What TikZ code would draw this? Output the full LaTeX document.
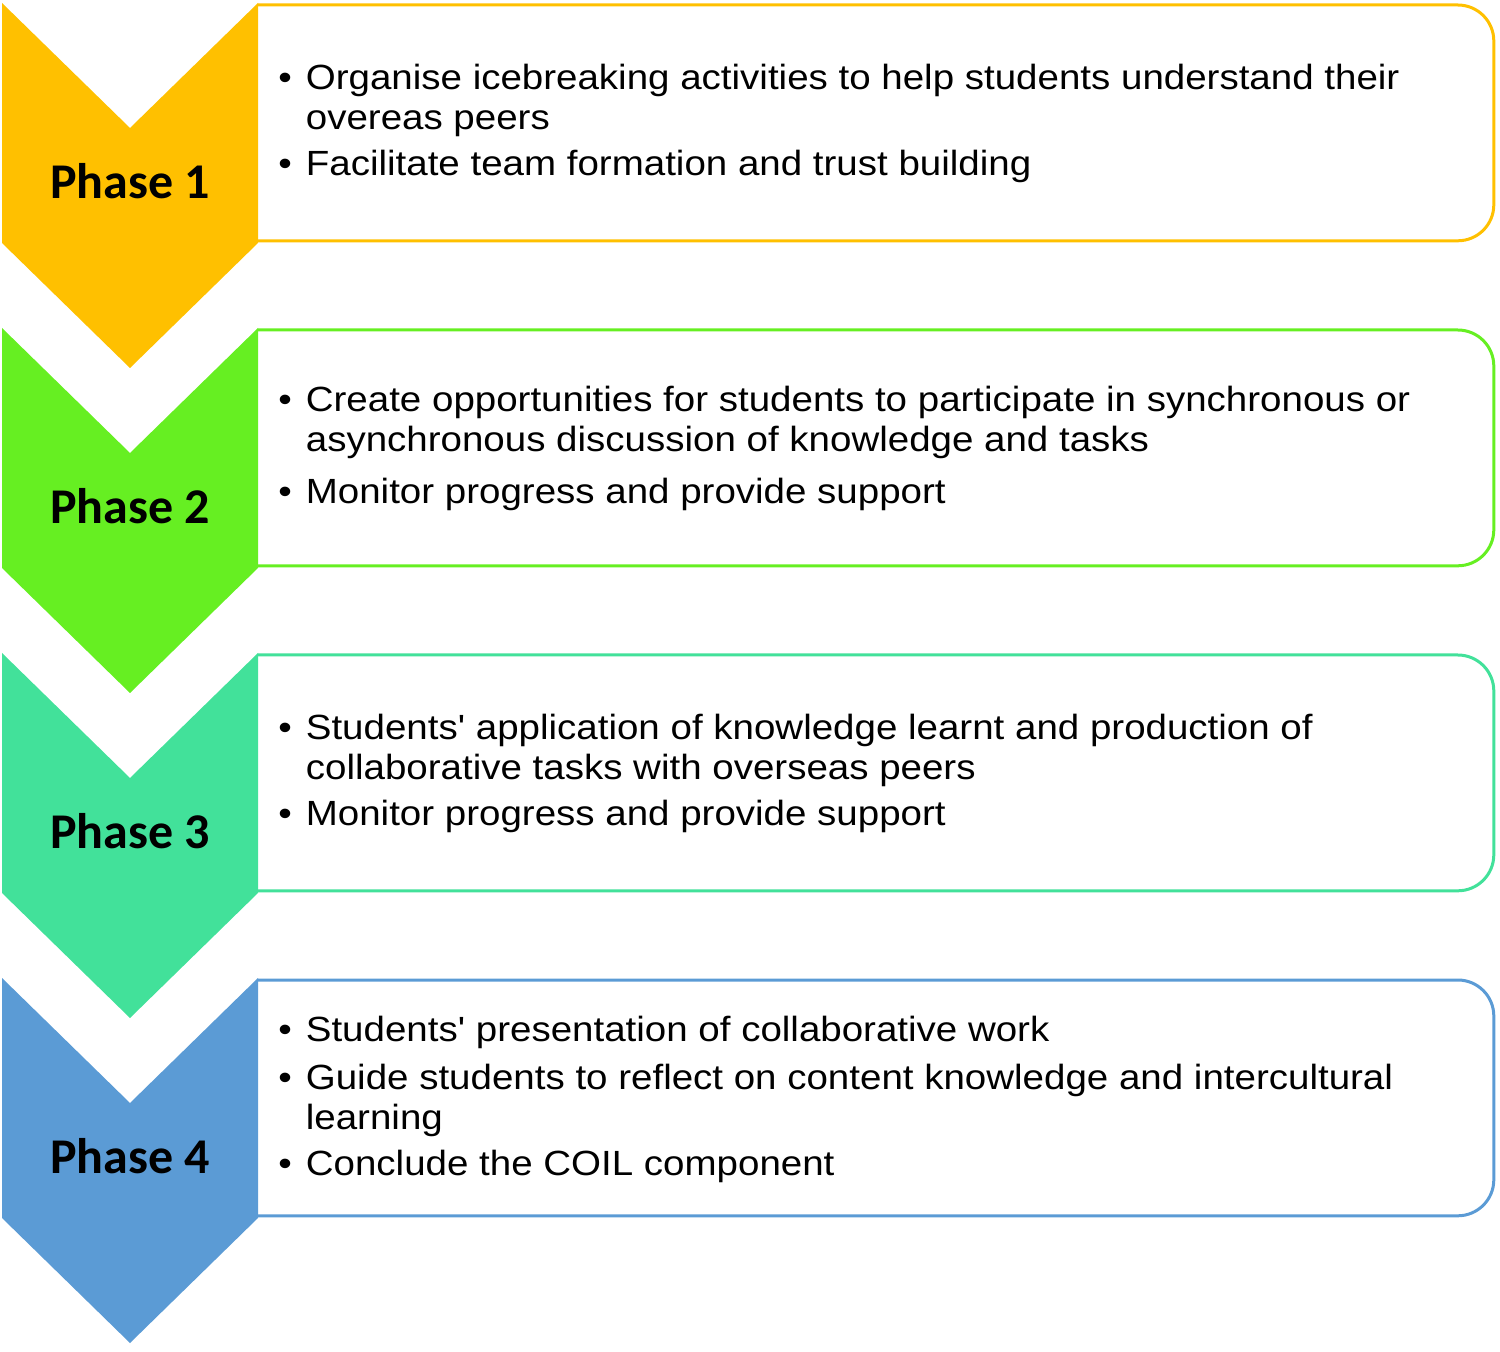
\documentclass[tikz,border=0pt]{standalone}
\usepackage{fontspec}
\setmainfont{Liberation Sans}
\newfontfamily\taskfont[FakeStretch=1.1]{Liberation Sans}
\newfontfamily\phasefont{Carlito}
\usepackage{xcolor}
\definecolor{phaseone}{HTML}{FFC000}
\definecolor{phasetwo}{HTML}{66EF22}
\definecolor{phasethree}{HTML}{42E19A}
\definecolor{phasefour}{HTML}{5B9BD5}
\newcommand{\bul}{\textbullet}

\begin{document}
\begin{tikzpicture}[x=0.5pt,y=-0.5pt,
  phase/.style={font=\phasefont\bfseries\fontsize{25}{30}\selectfont},
  tasks/.style={anchor=west,inner sep=0pt,font=\taskfont\fontsize{17.5}{20}\selectfont},
  frame/.style={line width=1.5pt,rounded corners=18pt}]
  \useasboundingbox (0,0) rectangle (1500,1352);
  % phase 1
  \node[inner sep=0pt,minimum width=617.5pt,minimum height=117.5pt,anchor=north west] (b1) at (258,5) {};
  \draw[frame,phaseone] (b1.north west) -- (b1.north east) -- (b1.south east) -- (b1.south west);
  \fill[phaseone] (2,3) -- (130,128) -- (258,3) -- (258,243) -- (130,368) -- (2,243) -- cycle;
  \node[phase] (p1) at (130,181) {Phase 1};
  \node[tasks] (t1) at (278,125) {\begin{tabular}{@{}l@{\hspace{7pt}}l@{}}
    \bul & Organise icebreaking activities to help students understand their\\
         & overeas peers\\[3pt]
    \bul & Facilitate team formation and trust building
  \end{tabular}};
  % phase 2
  \node[inner sep=0pt,minimum width=617.5pt,minimum height=117.5pt,anchor=north west] (b2) at (258,330) {};
  \draw[frame,phasetwo] (b2.north west) -- (b2.north east) -- (b2.south east) -- (b2.south west);
  \fill[phasetwo] (2,328) -- (130,453) -- (258,328) -- (258,568) -- (130,693) -- (2,568) -- cycle;
  \node[phase] (p2) at (130,506) {Phase 2};
  \node[tasks] (t2) at (278,450) {\begin{tabular}{@{}l@{\hspace{7pt}}l@{}}
    \bul & Create opportunities for students to participate in synchronous or\\
         & asynchronous discussion of knowledge and tasks\\[6pt]
    \bul & Monitor progress and provide support
  \end{tabular}};
  % phase 3
  \node[inner sep=0pt,minimum width=617.5pt,minimum height=117.5pt,anchor=north west] (b3) at (258,655) {};
  \draw[frame,phasethree] (b3.north west) -- (b3.north east) -- (b3.south east) -- (b3.south west);
  \fill[phasethree] (2,653) -- (130,778) -- (258,653) -- (258,893) -- (130,1018) -- (2,893) -- cycle;
  \node[phase] (p3) at (130,831) {Phase 3};
  \node[tasks] (t3) at (278,775) {\begin{tabular}{@{}l@{\hspace{7pt}}l@{}}
    \bul & Students' application of knowledge learnt and production of\\
         & collaborative tasks with overseas peers\\[3pt]
    \bul & Monitor progress and provide support
  \end{tabular}};
  % phase 4
  \node[inner sep=0pt,minimum width=617.5pt,minimum height=117.5pt,anchor=north west] (b4) at (258,980) {};
  \draw[frame,phasefour] (b4.north west) -- (b4.north east) -- (b4.south east) -- (b4.south west);
  \fill[phasefour] (2,978) -- (130,1103) -- (258,978) -- (258,1218) -- (130,1343) -- (2,1218) -- cycle;
  \node[phase] (p4) at (130,1156) {Phase 4};
  \node[tasks] (t4) at (278,1100.5) {\begin{tabular}{@{}l@{\hspace{7pt}}l@{}}
    \bul & Students' presentation of collaborative work\\[4pt]
    \bul & Guide students to reflect on content knowledge and intercultural\\
         & learning\\[3pt]
    \bul & Conclude the COIL component
  \end{tabular}};
\end{tikzpicture}
\end{document}
